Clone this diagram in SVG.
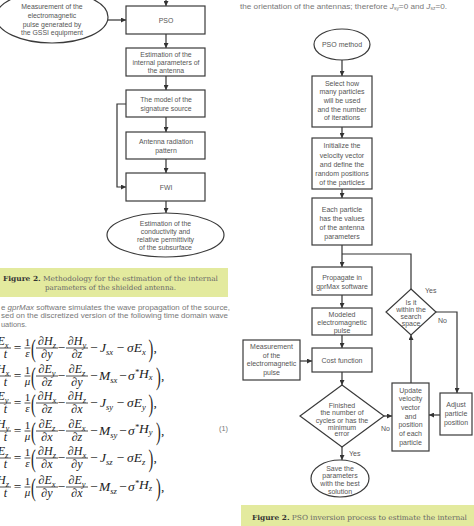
<svg xmlns="http://www.w3.org/2000/svg" width="474" height="526" viewBox="0 0 474 526">
<style>
.n{fill:#fff;stroke:#3a3a3a;stroke-width:1.2}
.c{fill:none;stroke:#333;stroke-width:1.2}
.t{font-family:"Liberation Sans",Arial,sans-serif;font-size:6.9px;fill:#555;text-anchor:middle}
.r{font-size:7px}
.l{font-family:"Liberation Sans",Arial,sans-serif;font-size:7px;fill:#555}
.b{font-family:"Liberation Sans",Arial,sans-serif;font-size:7.4px;fill:#777}
.cap{font-family:"DejaVu Serif","Liberation Serif",serif;font-size:7px;fill:#666}
.capb{font-weight:bold;fill:#333}
.m{font-family:"Liberation Serif","Times New Roman",serif;font-style:italic;font-size:13.5px;fill:#222}
.f{font-family:"Liberation Serif","Times New Roman",serif;font-style:italic;font-size:12px;fill:#222;text-anchor:middle}
.u{font-style:normal}
.s{font-size:8.5px}
.p{font-family:"Liberation Serif","Times New Roman",serif;font-size:26px;fill:#222}
.o{font-size:11px}
.bar{stroke:#222;stroke-width:0.8}
</style>
<defs>
<marker id="ah" viewBox="0 0 10 10" refX="10" refY="5" markerWidth="5" markerHeight="5" markerUnits="userSpaceOnUse" orient="auto"><path d="M0,0 L10,5 L0,10 z" fill="#333"/></marker>
<g id="sk">
<line class="bar" x1="0" y1="0" x2="11" y2="0"/>
<text class="f" x="5.5" y="10">t</text>
<text class="m u" x="17.5" y="4" text-anchor="middle">=</text>
<text class="f u o" x="27.5" y="-2">1</text>
<line class="bar" x1="24.5" y1="0" x2="30.5" y2="0"/>
<text class="p" transform="translate(31,9) scale(0.55,1)">(</text>
<line class="bar" x1="36" y1="0" x2="58" y2="0"/>
<text class="m u" x="61.5" y="4" text-anchor="middle">−</text>
<line class="bar" x1="66" y1="0" x2="88" y2="0"/>
<text class="m u" x="94" y="4" text-anchor="middle">−</text>
</g>
<g id="skJ">
<use href="#sk"/>
<text class="m u" x="120.5" y="4" text-anchor="middle">−</text>
<text class="p" transform="translate(148.5,9) scale(0.55,1)">)</text>
<text class="m u" x="153.5" y="4">,</text>
</g>
<g id="skM">
<use href="#sk"/>
<text class="m u" x="123" y="4" text-anchor="middle">−</text>
<text class="p" transform="translate(156,9) scale(0.55,1)">)</text>
<text class="m u" x="161" y="4">,</text>
</g>
</defs>

<!-- ===== Left figure ===== -->
<g id="connectors-left">
<line class="c" x1="166" y1="-2" x2="166" y2="6" marker-end="url(#ah)"/>
<line class="c" x1="108" y1="20" x2="126" y2="20" marker-end="url(#ah)"/>
<line class="c" x1="166" y1="34" x2="166" y2="48" marker-end="url(#ah)"/>
<line class="c" x1="166" y1="76" x2="166" y2="90" marker-end="url(#ah)"/>
<line class="c" x1="166" y1="117" x2="166" y2="132" marker-end="url(#ah)"/>
<line class="c" x1="166" y1="159" x2="166" y2="173" marker-end="url(#ah)"/>
<line class="c" x1="166" y1="201" x2="166" y2="213" marker-end="url(#ah)"/>
<polyline class="c" points="126,104 117,104 117,187 126,187" marker-end="url(#ah)"/>
</g>
<g id="measurement-gssi">
<ellipse class="n" cx="52" cy="17" rx="56" ry="26"/>
<text class="t"><tspan x="52" y="9.4">Measurement of the</tspan><tspan x="52" y="18">electromagnetic</tspan><tspan x="52" y="26.6">pulse generated by</tspan><tspan x="52" y="35.2">the GSSI equipment</tspan></text>
</g>
<g id="pso"><rect class="n" x="126" y="6" width="79" height="28"/><text class="t" x="166" y="22.5">PSO</text></g>
<g id="estimation-internal"><rect class="n" x="126" y="48" width="79" height="28"/>
<text class="t"><tspan x="166" y="56.5">Estimation of the</tspan><tspan x="166" y="64.6">internal parameters of</tspan><tspan x="166" y="72.7">the antenna</tspan></text></g>
<g id="model-signature"><rect class="n" x="126" y="90" width="79" height="27"/>
<text class="t"><tspan x="166" y="101.6">The model of the</tspan><tspan x="166" y="110.6">signature source</tspan></text></g>
<g id="radiation-pattern"><rect class="n" x="126" y="132" width="79" height="27"/>
<text class="t"><tspan x="166" y="143.6">Antenna radiation</tspan><tspan x="166" y="153.2">pattern</tspan></text></g>
<g id="fwi"><rect class="n" x="126" y="173" width="79" height="28"/><text class="t" x="166" y="189.5">FWI</text></g>
<g id="estimation-conductivity">
<ellipse class="n" cx="165.5" cy="235" rx="58.5" ry="22"/>
<text class="t"><tspan x="165.5" y="225.6">Estimation of the</tspan><tspan x="165.5" y="233.8">conductivity and</tspan><tspan x="165.5" y="242">relative permittivity</tspan><tspan x="165.5" y="250.3">of the subsurface</tspan></text>
</g>
<g id="caption-left">
<rect x="0" y="268" width="228" height="29" fill="#e3ea9e"/>
<text class="cap" x="3" y="281" textLength="215" lengthAdjust="spacingAndGlyphs"><tspan class="capb">Figure 2.</tspan> Methodology for the estimation of the internal</text>
<text class="cap" x="110.5" y="289.5" text-anchor="middle" textLength="131" lengthAdjust="spacingAndGlyphs">parameters of the shielded antenna.</text>
</g>
<g id="body-left">
<text class="b" x="1" y="309.5" textLength="229" lengthAdjust="spacingAndGlyphs">e <tspan font-style="italic">gprMax</tspan> software simulates the wave propagation of the source,</text>
<text class="b" x="1" y="318.3" textLength="227" lengthAdjust="spacingAndGlyphs">sed on the discretized version of the following time domain wave</text>
<text class="b" x="1" y="327">uations.</text>
</g>
<g id="equations">
<g transform="translate(0,348)"><use href="#skJ"/>
<text class="f" x="3" y="-3" text-anchor="start">E<tspan class="s" dy="2.5">x</tspan></text>
<text class="f o" x="27.5" y="9">ε</text>
<text class="f" x="47" y="-3">∂H<tspan class="s" dy="2.5">z</tspan></text><text class="f" x="47" y="10">∂y</text>
<text class="f" x="77" y="-3">∂H<tspan class="s" dy="2.5">y</tspan></text><text class="f" x="77" y="10">∂z</text>
<text class="m" x="100" y="4">J<tspan class="s" dy="2.5">sx</tspan></text>
<text class="m" x="127" y="4">σE<tspan class="s" dy="2.5">x</tspan></text>
</g>
<g transform="translate(0,376)"><use href="#skM"/>
<text class="f" x="3" y="-3" text-anchor="start">H<tspan class="s" dy="2.5">x</tspan></text>
<text class="f o" x="27.5" y="9">μ</text>
<text class="f" x="47" y="-3">∂E<tspan class="s" dy="2.5">y</tspan></text><text class="f" x="47" y="10">∂z</text>
<text class="f" x="77" y="-3">∂E<tspan class="s" dy="2.5">z</tspan></text><text class="f" x="77" y="10">∂y</text>
<text class="m" x="99" y="4">M<tspan class="s" dy="2.5">sx</tspan></text>
<text class="m" x="128" y="4">σ<tspan class="s" dy="-5">*</tspan><tspan dy="2.5">H</tspan><tspan class="s" dy="2.5">x</tspan></text>
</g>
<g transform="translate(0,403)"><use href="#skJ"/>
<text class="f" x="3" y="-3" text-anchor="start">E<tspan class="s" dy="2.5">y</tspan></text>
<text class="f o" x="27.5" y="9">ε</text>
<text class="f" x="47" y="-3">∂H<tspan class="s" dy="2.5">x</tspan></text><text class="f" x="47" y="10">∂z</text>
<text class="f" x="77" y="-3">∂H<tspan class="s" dy="2.5">z</tspan></text><text class="f" x="77" y="10">∂x</text>
<text class="m" x="100" y="4">J<tspan class="s" dy="2.5">sy</tspan></text>
<text class="m" x="127" y="4">σE<tspan class="s" dy="2.5">y</tspan></text>
</g>
<g transform="translate(0,431)"><use href="#skM"/>
<text class="f" x="3" y="-3" text-anchor="start">H<tspan class="s" dy="2.5">y</tspan></text>
<text class="f o" x="27.5" y="9">μ</text>
<text class="f" x="47" y="-3">∂E<tspan class="s" dy="2.5">z</tspan></text><text class="f" x="47" y="10">∂x</text>
<text class="f" x="77" y="-3">∂E<tspan class="s" dy="2.5">x</tspan></text><text class="f" x="77" y="10">∂z</text>
<text class="m" x="99" y="4">M<tspan class="s" dy="2.5">sy</tspan></text>
<text class="m" x="128" y="4">σ<tspan class="s" dy="-5">*</tspan><tspan dy="2.5">H</tspan><tspan class="s" dy="2.5">y</tspan></text>
</g>
<g transform="translate(0,458)"><use href="#skJ"/>
<text class="f" x="3" y="-3" text-anchor="start">E<tspan class="s" dy="2.5">z</tspan></text>
<text class="f o" x="27.5" y="9">ε</text>
<text class="f" x="47" y="-3">∂H<tspan class="s" dy="2.5">z</tspan></text><text class="f" x="47" y="10">∂x</text>
<text class="f" x="77" y="-3">∂H<tspan class="s" dy="2.5">x</tspan></text><text class="f" x="77" y="10">∂y</text>
<text class="m" x="100" y="4">J<tspan class="s" dy="2.5">sz</tspan></text>
<text class="m" x="127" y="4">σE<tspan class="s" dy="2.5">z</tspan></text>
</g>
<g transform="translate(0,487)"><use href="#skM"/>
<text class="f" x="3" y="-3" text-anchor="start">H<tspan class="s" dy="2.5">z</tspan></text>
<text class="f o" x="27.5" y="9">μ</text>
<text class="f" x="47" y="-3">∂E<tspan class="s" dy="2.5">x</tspan></text><text class="f" x="47" y="10">∂y</text>
<text class="f" x="77" y="-3">∂E<tspan class="s" dy="2.5">y</tspan></text><text class="f" x="77" y="10">∂x</text>
<text class="m" x="99" y="4">M<tspan class="s" dy="2.5">sz</tspan></text>
<text class="m" x="128" y="4">σ<tspan class="s" dy="-5">*</tspan><tspan dy="2.5">H</tspan><tspan class="s" dy="2.5">z</tspan></text>
</g>
<text class="b" x="219" y="431" fill="#444">(1)</text>
</g>

<!-- ===== Right figure ===== -->
<text class="b" x="240" y="8.6" textLength="207" lengthAdjust="spacingAndGlyphs">the orientation of the antennas; therefore <tspan font-style="italic">J</tspan><tspan font-size="4.5" dy="1.5">sy</tspan><tspan dy="-1.5">=0 and </tspan><tspan font-style="italic">J</tspan><tspan font-size="4.5" dy="1.5">sz</tspan><tspan dy="-1.5">=0.</tspan></text>
<g id="connectors-right">
<line class="c" x1="342" y1="60" x2="342" y2="76" marker-end="url(#ah)"/>
<line class="c" x1="342" y1="127" x2="342" y2="138" marker-end="url(#ah)"/>
<line class="c" x1="342" y1="189" x2="342" y2="198" marker-end="url(#ah)"/>
<line class="c" x1="342" y1="245" x2="342" y2="267" marker-end="url(#ah)"/>
<line class="c" x1="342" y1="295" x2="342" y2="308" marker-end="url(#ah)"/>
<line class="c" x1="342" y1="335" x2="342" y2="348" marker-end="url(#ah)"/>
<line class="c" x1="342" y1="372" x2="342" y2="385" marker-end="url(#ah)"/>
<line class="c" x1="342" y1="447" x2="342" y2="460" marker-end="url(#ah)"/>
<line class="c" x1="300" y1="361" x2="312" y2="361" marker-end="url(#ah)"/>
<polyline class="c" points="411,289 411,254 342,254"/>
<line class="c" x1="384" y1="416" x2="392" y2="416" marker-end="url(#ah)"/>
<line class="c" x1="411" y1="383" x2="411" y2="335" marker-end="url(#ah)"/>
<polyline class="c" points="436,312 457,312 457,393" marker-end="url(#ah)"/>
<line class="c" x1="440" y1="415" x2="429" y2="415" marker-end="url(#ah)"/>
<text class="l" x="425" y="292.5">Yes</text>
<text class="l" x="438" y="322.5">No</text>
<text class="l" x="381" y="430.5">No</text>
<text class="l" x="349" y="455.5">Yes</text>
</g>
<g id="pso-method"><ellipse class="n" cx="342" cy="44.5" rx="28" ry="15.5"/><text class="t r" x="342" y="47">PSO method</text></g>
<g id="select-particles"><rect class="n" x="312" y="76" width="60" height="51"/>
<text class="t r"><tspan x="342" y="85.5">Select how</tspan><tspan x="342" y="94.2">many particles</tspan><tspan x="342" y="102.9">will be used</tspan><tspan x="342" y="111.6">and the number</tspan><tspan x="342" y="120.3">of iterations</tspan></text></g>
<g id="initialize"><rect class="n" x="312" y="138" width="60" height="51"/>
<text class="t r"><tspan x="342" y="148.3">Initialize the</tspan><tspan x="342" y="157.5">velocity vector</tspan><tspan x="342" y="166.7">and define the</tspan><tspan x="342" y="175.9">random positions</tspan><tspan x="342" y="185.1">of the particles</tspan></text></g>
<g id="each-particle"><rect class="n" x="312" y="198" width="60" height="47"/>
<text class="t r"><tspan x="342" y="211.5">Each particle</tspan><tspan x="342" y="220.5">has the values</tspan><tspan x="342" y="229.5">of the antenna</tspan><tspan x="342" y="238.5">parameters</tspan></text></g>
<g id="propagate"><rect class="n" x="312" y="267" width="60" height="28"/>
<text class="t r"><tspan x="342" y="279.5">Propagate in</tspan><tspan x="342" y="288.5">gprMax software</tspan></text></g>
<g id="modeled-pulse"><rect class="n" x="312" y="308" width="60" height="27"/>
<text class="t r"><tspan x="342" y="317.3">Modeled</tspan><tspan x="342" y="325.3">electromagnetic</tspan><tspan x="342" y="333.3">pulse</tspan></text></g>
<g id="cost-function"><rect class="n" x="312" y="348" width="60" height="24"/><text class="t r" x="342" y="362.5">Cost function</text></g>
<g id="measurement-pulse"><rect class="n" x="243" y="340" width="57" height="40"/>
<text class="t r"><tspan x="271.5" y="349.2">Measurement</tspan><tspan x="271.5" y="357.8">of the</tspan><tspan x="271.5" y="366.4">electromagnetic</tspan><tspan x="271.5" y="375">pulse</tspan></text></g>
<g id="finished"><polygon class="n" points="342,385 384,416 342,447 300,416"/>
<text class="t r"><tspan x="342" y="407.5">Finished</tspan><tspan x="342" y="415.2">the number of</tspan><tspan x="342" y="422.9">cycles or has the</tspan><tspan x="342" y="429.6">minimum</tspan><tspan x="342" y="436.3">error</tspan></text></g>
<g id="save-parameters"><ellipse class="n" cx="340" cy="478.5" rx="29" ry="18.5"/>
<text class="t r"><tspan x="340" y="470.5">Save the</tspan><tspan x="340" y="478.3">parameters</tspan><tspan x="340" y="486.1">with the best</tspan><tspan x="340" y="493.9">solution</tspan></text></g>
<g id="update-velocity"><rect class="n" x="392" y="383" width="37" height="68"/>
<text class="t r"><tspan x="410.5" y="392.5">Update</tspan><tspan x="410.5" y="401.2">velocity</tspan><tspan x="410.5" y="409.9">vector</tspan><tspan x="410.5" y="418.6">and</tspan><tspan x="410.5" y="427.3">position</tspan><tspan x="410.5" y="436">of each</tspan><tspan x="410.5" y="444.7">particle</tspan></text></g>
<g id="within-search-space"><polygon class="n" points="411,289 436,312 411,335 386,312"/>
<text class="t r"><tspan x="411" y="304.5">Is it</tspan><tspan x="411" y="311.5">within the</tspan><tspan x="411" y="318.5">search</tspan><tspan x="411" y="325.5">space</tspan></text></g>
<g id="adjust-position"><rect class="n" x="440" y="393" width="32" height="42"/>
<text class="t r"><tspan x="456" y="406.5">Adjust</tspan><tspan x="456" y="415.7">particle</tspan><tspan x="456" y="424.9">position</tspan></text></g>
<g id="caption-right">
<rect x="241" y="505" width="233" height="21" fill="#e3ea9e"/>
<text class="cap" x="252" y="519.5" textLength="215" lengthAdjust="spacingAndGlyphs"><tspan class="capb">Figure 2.</tspan> PSO inversion process to estimate the internal</text>
</g>
</svg>
